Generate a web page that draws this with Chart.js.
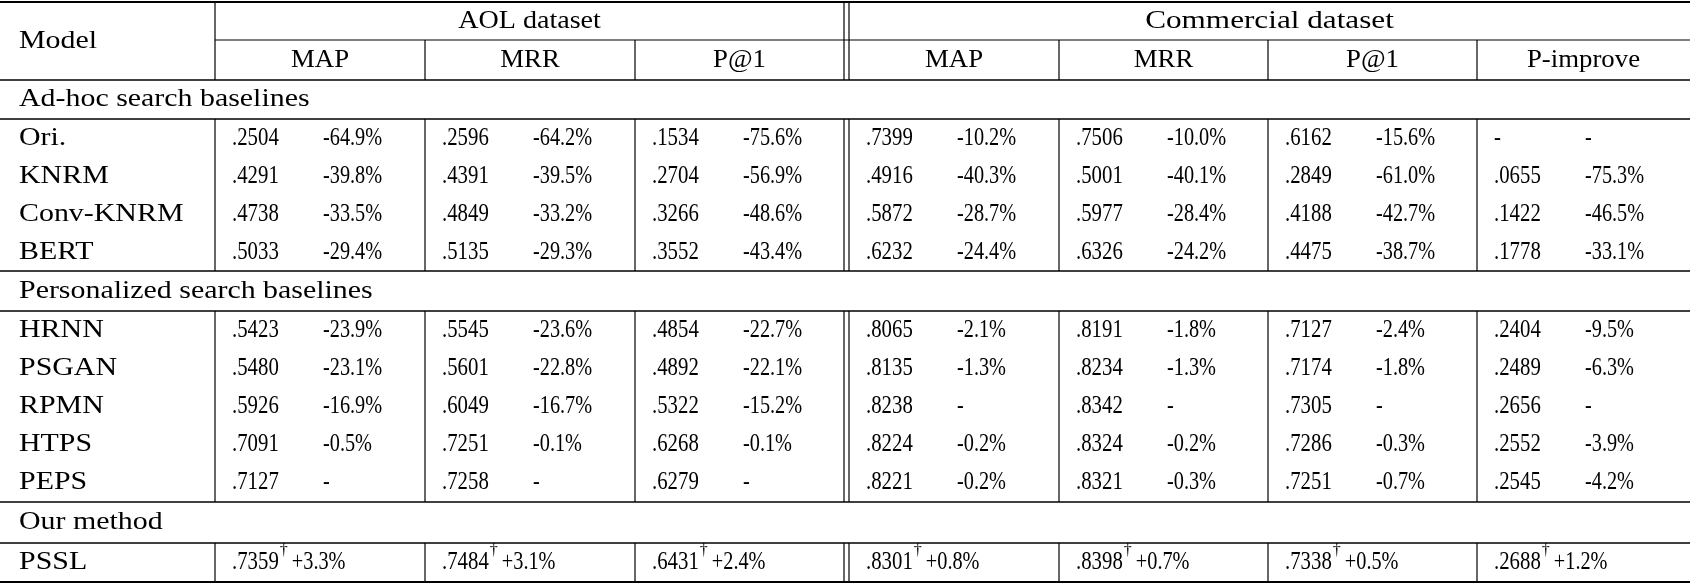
<!DOCTYPE html>
<html><head><meta charset="utf-8">
<script src="https://cdn.jsdelivr.net/npm/chart.js@4.4.0/dist/chart.umd.min.js"></script>
<style>html,body{margin:0;padding:0;background:#fff}#w{width:1690px;height:586px}</style>
</head><body><div id="w"><canvas id="c"></canvas></div>
<script>
const groups = ["AOL dataset", "Commercial dataset"];
const metrics = ["MAP", "MRR", "P@1", "MAP", "MRR", "P@1", "P-improve"];
const sections = ["Ad-hoc search baselines", "Personalized search baselines", "Our method"];
const models = ["Ori.", "KNRM", "Conv-KNRM", "BERT", "HRNN", "PSGAN", "RPMN", "HTPS", "PEPS", "PSSL"];
const aolMap    = [".2504",".4291",".4738",".5033",".5423",".5480",".5926",".7091",".7127",".7359"];
const aolMapImp = ["-64.9%","-39.8%","-33.5%","-29.4%","-23.9%","-23.1%","-16.9%","-0.5%","-","+3.3%"];
const aolMrr    = [".2596",".4391",".4849",".5135",".5545",".5601",".6049",".7251",".7258",".7484"];
const aolMrrImp = ["-64.2%","-39.5%","-33.2%","-29.3%","-23.6%","-22.8%","-16.7%","-0.1%","-","+3.1%"];
const aolP1     = [".1534",".2704",".3266",".3552",".4854",".4892",".5322",".6268",".6279",".6431"];
const aolP1Imp  = ["-75.6%","-56.9%","-48.6%","-43.4%","-22.7%","-22.1%","-15.2%","-0.1%","-","+2.4%"];
const comMap    = [".7399",".4916",".5872",".6232",".8065",".8135",".8238",".8224",".8221",".8301"];
const comMapImp = ["-10.2%","-40.3%","-28.7%","-24.4%","-2.1%","-1.3%","-","-0.2%","-0.2%","+0.8%"];
const comMrr    = [".7506",".5001",".5977",".6326",".8191",".8234",".8342",".8324",".8321",".8398"];
const comMrrImp = ["-10.0%","-40.1%","-28.4%","-24.2%","-1.8%","-1.3%","-","-0.2%","-0.3%","+0.7%"];
const comP1     = [".6162",".2849",".4188",".4475",".7127",".7174",".7305",".7286",".7251",".7338"];
const comP1Imp  = ["-15.6%","-61.0%","-42.7%","-38.7%","-2.4%","-1.8%","-","-0.3%","-0.7%","+0.5%"];
const comPImp   = ["-",".0655",".1422",".1778",".2404",".2489",".2656",".2552",".2545",".2688"];
const comPImpImp= ["-","-75.3%","-46.5%","-33.1%","-9.5%","-6.3%","-","-3.9%","-4.2%","+1.2%"];
const significant = [false,false,false,false,false,false,false,false,false,true];

const valCols = [[aolMap,aolMapImp],[aolMrr,aolMrrImp],[aolP1,aolP1Imp],[comMap,comMapImp],[comMrr,comMrrImp],[comP1,comP1Imp],[comPImp,comPImpImp]];

// layout (table coordinate space)
const colX = [0, 215, 425, 635, 844, 1059, 1268, 1477, 1690];
const rowY = [138,176,214,252, 330,368,406,444,482, 562];
const sectionY = [99, 291, 522];
const hLines = [2, 80, 119, 271, 311, 502, 543, 582];
const FONT = '26px "Liberation Serif", serif';

function txt(c, s, x, y, sx, align) {
  c.save();
  c.font = FONT; c.textBaseline = 'middle'; c.textAlign = 'left';
  const w = c.measureText(s).width * sx;
  let x0 = x;
  if (align === 'center') x0 = x - w / 2;
  c.translate(x0, y); c.scale(sx, 1);
  c.fillText(s, 0, 0);
  c.restore();
  return w;
}

const tablePlugin = {
  id: 'table',
  afterDraw(chart) {
    const c = chart.ctx, X = v => chart.scales.x.getPixelForValue(v), Y = v => chart.scales.y.getPixelForValue(v);
    c.save();
    c.strokeStyle = '#000'; c.fillStyle = '#000';
    hLines.forEach((y, i) => {
      c.lineWidth = (i === 0 || i === hLines.length - 1) ? 2 : 1.4;
      c.beginPath(); c.moveTo(X(0), Y(y)); c.lineTo(X(1690), Y(y)); c.stroke();
    });
    c.lineWidth = 1.2;
    c.beginPath(); c.moveTo(X(colX[1]), Y(40)); c.lineTo(X(1690), Y(40)); c.stroke();
    const segs = [[2,80],[119,271],[311,502],[543,582]];
    const vline = (x, from) => segs.forEach(([a,b]) => {
      const s = Math.max(a, from); if (s >= b) return;
      c.beginPath(); c.moveTo(X(x), Y(s)); c.lineTo(X(x), Y(b)); c.stroke();
    });
    vline(colX[1], 2);
    [2,3,5,6,7].forEach(i => vline(colX[i], 40));
    vline(colX[4], 2); vline(colX[4] + 5, 2);

    const LS = 1.15;
    txt(c, 'Model', X(19), Y(41), LS);
    sections.forEach((s, i) => txt(c, s, X(19), Y(sectionY[i]), LS));
    models.forEach((m, i) => txt(c, m, X(19), Y(rowY[i]), LS));
    txt(c, groups[0], X((colX[1] + colX[4]) / 2), Y(21), 1.08, 'center');
    txt(c, groups[1], X((colX[4] + 5 + colX[8]) / 2), Y(21), 1.2, 'center');
    metrics.forEach((m, j) => {
      const l = colX[j+1] + (j === 3 ? 5 : 0);
      txt(c, m, X((l + colX[j+2]) / 2), Y(60), 1.03, 'center');
    });
    valCols.forEach(([v, p], j) => {
      const l = colX[j+1] + (j === 3 ? 5 : 0);
      models.forEach((_, i) => {
        const y = Y(rowY[i]);
        const w = txt(c, v[i], X(l + 17), y, 0.8);
        if (significant[i]) {
          c.save();
          c.font = '16px "Liberation Serif", serif'; c.textBaseline = 'middle'; c.textAlign = 'left';
          c.fillText('\u2020', X(l + 17) + w + 1, y - 11);
          c.restore();
          txt(c, p[i], X(l + 17) + w + 13, y, 0.78);
        } else {
          txt(c, p[i], X(l + 108), y, 0.78);
        }
      });
    });
    c.restore();
  }
};

new Chart(document.getElementById('c'), {
  type: 'scatter',
  data: { datasets: [{ data: [], pointRadius: 0 }] },
  options: {
    responsive: true, maintainAspectRatio: false, animation: false,
    layout: { padding: 0 },
    plugins: { legend: { display: false }, tooltip: { enabled: false } },
    scales: {
      x: { type: 'linear', min: 0, max: 1690, display: false },
      y: { type: 'linear', min: 0, max: 586, reverse: true, display: false }
    }
  },
  plugins: [tablePlugin]
});
</script></body></html>
